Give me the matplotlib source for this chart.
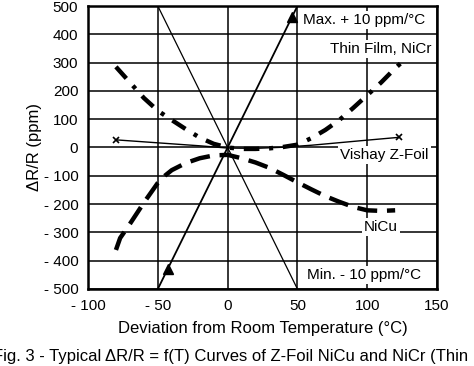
import matplotlib
matplotlib.use('Agg')
import matplotlib.pyplot as plt

plt.rcParams['font.family'] = ['Liberation Sans', 'DejaVu Sans']

# Thin film NiCr (dash-dot)
nicr_t = [-80, -70, -60, -50, -40, -30, -20, -10, 0, 10, 20, 30, 40, 50, 60, 70, 80, 90, 100, 110, 120, 125]
nicr_r = [285, 230, 175, 130, 97, 65, 35, 13, 0, -5, -5, -3, 2, 10, 33, 62, 97, 140, 185, 230, 280, 302]

# NiCu (dashed)
nicu_t = [-80, -77, -70, -60, -50, -45, -40, -30, -20, -10, 0, 10, 20, 30, 40, 50, 60, 70, 80, 90, 100, 110, 120]
nicu_r = [-362, -320, -270, -195, -125, -100, -80, -55, -38, -28, -26, -38, -53, -72, -97, -123, -148, -172, -192, -210, -222, -224, -222]

# Vishay Z-Foil
zfoil_t = [-80, -40, -20, 0, 20, 40, 60, 80, 100, 123]
zfoil_r = [27, 13, 6, -2, -3, 1, 8, 17, 26, 36]

# +/- 10 ppm/degC limit lines
lim_t = [-50, 50]
max_r = [-500, 500]
min_r = [500, -500]
tri_t = [-43, 46]
tri_r = [-430, 460]

xticks = [-100, -50, 0, 50, 100, 150]
yticks = [-500, -400, -300, -200, -100, 0, 100, 200, 300, 400, 500]


def fmt(v):
    return f'- {abs(v)}' if v < 0 else str(v)


fig = plt.figure(figsize=(4.74, 3.66), dpi=100)
ax = fig.add_axes([0.1857, 0.2104, 0.7363, 0.7732])

ax.set_xlim(-100, 150)
ax.set_ylim(-500, 500)
ax.set_xticks(xticks)
ax.set_yticks(yticks)
ax.set_xticklabels([fmt(v) for v in xticks], fontsize=11)
ax.set_yticklabels([fmt(v) for v in yticks], fontsize=11)
ax.tick_params(length=0, pad=7)
ax.grid(True, color='black', linewidth=1.1)
ax.set_axisbelow(True)
for s in ax.spines.values():
    s.set_linewidth(1.8)

# limit lines
ax.plot(lim_t, min_r, color='black', lw=0.9)
ax.plot(lim_t, max_r, color='black', lw=1.3)
ax.plot(tri_t, tri_r, ls='none', marker='^', color='black', ms=7)

# curves
ax.plot(nicr_t, nicr_r, color='black', lw=3.2, ls=(0, (3.5, 2.2, 0.9, 2.2)),
        dash_capstyle='butt')
ax.plot(nicu_t, nicu_r, color='black', lw=3.2, ls=(0, (4.5, 2.2)),
        dash_capstyle='butt')
ax.plot(zfoil_t, zfoil_r, color='black', lw=1.0, marker='x', ms=5, mew=1.2,
        markevery=[0, len(zfoil_t) - 1])

box = dict(facecolor='white', edgecolor='none', pad=1.5)
ax.text(98, 450, 'Max. + 10 ppm/°C', fontsize=11, ha='center', va='center', bbox=box)
ax.text(146, 348, 'Thin Film, NiCr', fontsize=11, ha='right', va='center', bbox=box)
ax.text(144, -27, 'Vishay Z-Foil', fontsize=11, ha='right', va='center', bbox=box)
ax.text(110, -281, 'NiCu', fontsize=11, ha='center', va='center', bbox=box)
ax.text(98, -450, 'Min. - 10 ppm/°C', fontsize=11, ha='center', va='center', bbox=box)

ax.set_ylabel('ΔR/R (ppm)', fontsize=12, labelpad=1)
ax.set_xlabel('Deviation from Room Temperature (°C)', fontsize=12, labelpad=6)

fig.text(-0.015, 0.025, 'Fig. 3 - Typical ΔR/R = f(T) Curves of Z-Foil NiCu and NiCr (Thin Film)',
         fontsize=12, ha='left', va='center')

fig.savefig('out.png', dpi=100)
